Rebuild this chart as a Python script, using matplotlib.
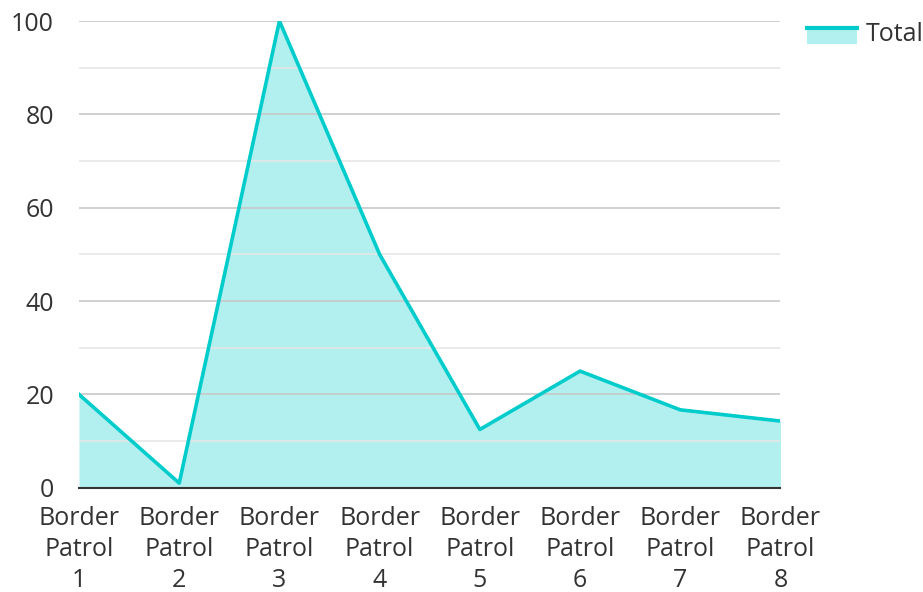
import matplotlib
matplotlib.use("Agg")
import matplotlib.pyplot as plt
from matplotlib.legend_handler import HandlerBase
from matplotlib.patches import Rectangle
from matplotlib.lines import Line2D

plt.rcParams['font.family'] = ['Open Sans', 'DejaVu Sans']

categories = ["Border\nPatrol\n1", "Border\nPatrol\n2", "Border\nPatrol\n3", "Border\nPatrol\n4",
              "Border\nPatrol\n5", "Border\nPatrol\n6", "Border\nPatrol\n7", "Border\nPatrol\n8"]
total = [20, 1, 100, 50, 12.5, 25, 16.7, 14.3]

line_color = "#00cccc"
fill_color = "#b2efef"
text_color = "#333333"


class AreaHandler(HandlerBase):
    # fill patch with the line along its top edge
    def create_artists(self, legend, orig, xd, yd, w, h, fontsize, trans):
        r = Rectangle((xd, yd - 0.2 * h), w, h * 1.0, facecolor=fill_color, edgecolor="none", transform=trans)
        l = Line2D([xd, xd + w], [yd + 0.75 * h, yd + 0.75 * h], color=line_color, lw=3, transform=trans)
        return [r, l]


fig = plt.figure(figsize=(9.23, 5.92), dpi=100)
ax = fig.add_axes([0.0856, 0.176, 0.760, 0.7885])

x = list(range(len(total)))
ax.fill_between(x, total, 0, color=fill_color, lw=0, zorder=1)
ax.plot(x, total, color=line_color, lw=2.6, zorder=3)

ax.set_xlim(0, len(total) - 1)
ax.set_ylim(0, 100)
ax.set_yticks(range(0, 101, 20))
ax.set_yticks(range(10, 100, 20), minor=True)
ax.grid(axis="y", which="major", color="#c8c8c8", lw=1.2, zorder=2)
ax.grid(axis="y", which="minor", color="#e6e6e6", lw=1.2, zorder=2)
ax.set_axisbelow(False)
ax.set_xticks(x)
ax.set_xticklabels(categories, linespacing=1.33)
ax.tick_params(axis="both", which="both", length=0, labelsize=18, colors=text_color)
ax.tick_params(axis="x", pad=13)
ax.tick_params(axis="y", pad=18)

for s in ["top", "right", "left"]:
    ax.spines[s].set_visible(False)
ax.spines["bottom"].set_color("#333333")
ax.spines["bottom"].set_linewidth(1.5)
ax.spines["bottom"].set_zorder(4)

handle = Rectangle((0, 0), 1, 1)
leg = fig.legend([handle], ["Total"], handler_map={Rectangle: AreaHandler()},
                 loc="upper left", bbox_to_anchor=(0.874, 0.963), frameon=False,
                 fontsize=18, handlelength=2.0, handletextpad=0.36, borderaxespad=0,
                 borderpad=0)
for t in leg.get_texts():
    t.set_color(text_color)

fig.savefig("out.png", dpi=100)
